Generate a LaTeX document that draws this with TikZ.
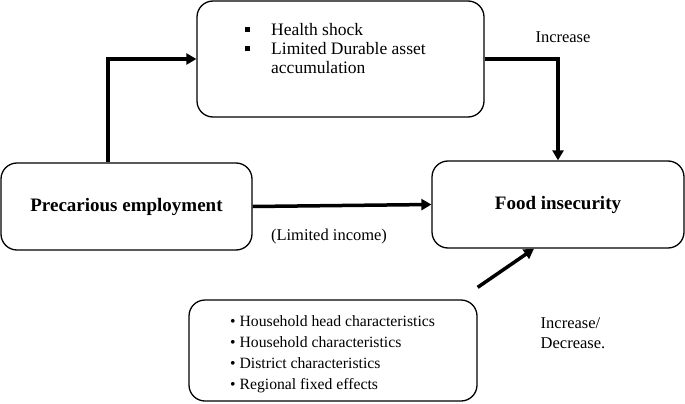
\documentclass[tikz,border=0pt]{standalone}
\usepackage{fontspec}
\setmainfont{Liberation Serif}
\usetikzlibrary{arrows.meta,calc}
\begin{document}
\begin{tikzpicture}[x=1pt,y=-1pt,
  box/.style={draw,line width=1.3pt,rounded corners=16pt,inner sep=0pt},
  arr/.style={line width=3.5pt,-{Triangle[length=10pt,width=11pt]}},
  lbl/.style={font=\fontsize{16.5}{20}\selectfont,inner sep=0pt},
  big/.style={font=\fontsize{19}{22}\selectfont\bfseries,inner sep=0pt}]
\useasboundingbox (0,0) rectangle (685,404);
\node[box,minimum width=287pt,minimum height=116pt] (top) at (340.5,59) {};
\node[box,minimum width=251pt,minimum height=87pt] (prec) at (126.5,206.5) {};
\node[box,minimum width=252pt,minimum height=87pt] (food) at (558,204.5) {};
\node[box,minimum width=288pt,minimum height=101pt] (bot) at (333,350.5) {};
\node[big] (prect) at (prec) {Precarious employment};
\node[big] (foodt) at (food) {Food insecurity};
\node[anchor=north west,align=left,inner sep=0pt,font=\fontsize{17.5}{19}\selectfont] (topt) at (245,23) {%
  \rule[3pt]{5pt}{5pt}\hspace{21pt}Health shock\\
  \rule[3pt]{5pt}{5pt}\hspace{21pt}Limited Durable asset\\
  \hspace{26pt}accumulation};
\node[anchor=north west,align=left,inner sep=0pt,font=\fontsize{15.7}{21}\selectfont] (bott) at (230,315) {%
  \textbullet\ Household head characteristics\\
  \textbullet\ Household characteristics\\
  \textbullet\ District characteristics\\
  \textbullet\ Regional fixed effects};
\draw[arr] (prec.north -| 108,0) |- (top.west);
\draw[arr] (top.east) -| (food.north);
\draw[arr] ([yshift=12pt]bot.north east) -- (food.south -| 534,0);
\draw[arr] (prec.east) -- (food.west);
\node[lbl] (inc) at (563,37) {Increase};
\node[lbl] (lim) at (329,237) {(Limited income)};
\node[lbl,align=left] (incdec) at (573,333) {Increase/\\Decrease.};
\end{tikzpicture}
\end{document}
